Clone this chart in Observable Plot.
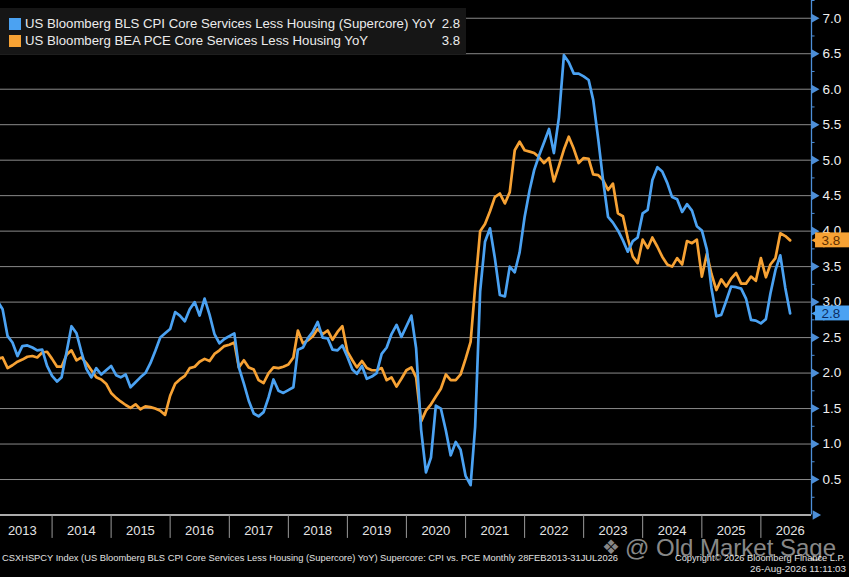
<!DOCTYPE html>
<html><head><meta charset="utf-8">
<script src="https://cdn.jsdelivr.net/npm/d3@7"></script>
<script src="https://cdn.jsdelivr.net/npm/@observablehq/plot@0.6"></script>
<style>
html,body{margin:0;padding:0;background:#000;overflow:hidden;}
#wrap{position:relative;width:849px;height:577px;overflow:hidden;background:#000;font-family:"Liberation Sans",Arial,sans-serif;}
#wrap svg{display:block;}
#legend{position:absolute;left:0;top:8px;width:466px;height:46px;background:#161616;color:#ececec;font-size:13.2px;}
.row{position:absolute;left:0;width:466px;height:16px;line-height:16px;}
.sw{position:absolute;left:9px;top:2px;width:12px;height:12px;}
.lab{position:absolute;left:25px;top:0;white-space:nowrap;}
.val{position:absolute;right:6px;top:0;}
#wm{position:absolute;left:602px;top:534px;color:rgba(255,255,255,0.55);font-size:24px;white-space:nowrap;font-family:"Liberation Sans",Arial,sans-serif;}
#wm .ic{font-family:"DejaVu Sans";font-size:20px;margin-right:5px;vertical-align:2px;}
</style></head><body><div id="wrap"></div>
<script>
// ---- data (monthly, Feb 2013 .. Jul 2026) ----
const startMonth = [2013, 1]; // Feb 2013 (UTC month index)
const cpiSupercore = [
 3.00,2.90,2.52,2.43,2.24,2.38,2.39,2.36,2.32,2.33,
 2.10,1.96,1.88,1.94,2.30,2.66,2.56,2.30,2.06,1.94,
 2.07,1.98,2.04,2.10,1.97,1.94,1.98,1.80,1.87,1.94,
 2.00,2.14,2.31,2.50,2.56,2.62,2.86,2.81,2.73,2.90,
 3.00,2.81,3.05,2.82,2.55,2.42,2.48,2.52,2.56,2.08,
 1.85,1.61,1.43,1.39,1.45,1.66,1.91,1.75,1.72,1.76,
 1.80,2.33,2.36,2.49,2.58,2.72,2.50,2.49,2.33,2.32,
 2.39,2.23,2.05,1.99,2.10,1.92,1.95,2.00,2.27,2.36,
 2.55,2.68,2.51,2.66,2.81,2.35,1.20,0.60,0.81,1.54,
 1.50,1.19,0.84,1.03,0.92,0.55,0.42,1.24,3.15,3.85,
 4.04,3.62,3.10,3.08,3.50,3.42,3.70,4.20,4.58,4.86,
 5.07,5.25,5.44,5.10,5.60,6.48,6.38,6.22,6.22,6.18,
 6.13,5.85,5.30,4.72,4.20,4.12,4.01,3.87,3.71,3.86,
 3.91,4.25,4.30,4.72,4.90,4.84,4.68,4.48,4.45,4.27,
 4.38,4.29,4.07,4.01,3.74,3.20,2.80,2.82,3.02,3.22,
 3.21,3.19,3.05,2.75,2.74,2.70,2.76,3.12,3.45,3.66,
 3.20,2.84
];
const pceSupercore = [
 2.20,2.22,2.07,2.11,2.16,2.19,2.23,2.24,2.22,2.29,
 2.30,2.20,2.09,2.09,2.26,2.32,2.18,2.22,2.14,2.04,
 1.94,1.91,1.85,1.72,1.65,1.60,1.55,1.51,1.56,1.49,
 1.53,1.52,1.50,1.47,1.41,1.68,1.85,1.91,1.96,2.07,
 2.09,2.16,2.20,2.17,2.27,2.32,2.38,2.40,2.43,2.08,
 2.18,2.08,2.05,1.90,1.86,2.00,2.08,2.07,2.09,2.12,
 2.22,2.60,2.42,2.46,2.52,2.62,2.55,2.60,2.47,2.58,
 2.66,2.30,2.18,2.08,2.17,2.07,2.04,2.04,2.07,1.90,
 1.94,1.81,1.92,2.04,2.08,1.94,1.32,1.47,1.56,1.67,
 1.78,1.98,1.90,1.90,1.98,2.20,2.44,3.21,4.00,4.10,
 4.28,4.48,4.53,4.39,4.55,5.14,5.26,5.14,5.12,5.10,
 5.04,4.96,5.03,4.70,4.92,5.15,5.33,5.16,4.96,5.03,
 5.02,4.80,4.79,4.72,4.58,4.67,4.25,4.21,3.90,3.64,
 3.55,3.88,3.76,3.91,3.78,3.64,3.53,3.50,3.62,3.53,
 3.86,3.83,3.88,3.36,3.68,3.40,3.17,3.32,3.22,3.33,
 3.41,3.26,3.26,3.36,3.30,3.62,3.35,3.53,3.62,3.97,
 3.93,3.87
];
const seriesNames = [
 "US Bloomberg BLS CPI Core Services Less Housing (Supercore) YoY",
 "US Bloomberg BEA PCE Core Services Less Housing YoY"
];
const lastLabels = ["2.8", "3.8"];
const yTicks = [0.5,1.0,1.5,2.0,2.5,3.0,3.5,4.0,4.5,5.0,5.5,6.0,6.5,7.0];
const yMinor = [0.25,0.75,1.25,1.75,2.25,2.75,3.25,3.75,4.25,4.75,5.25,5.75,6.25,6.75,7.25];
const yearLabels = [2013,2014,2015,2016,2017,2018,2019,2020,2021,2022,2023,2024,2025,2026];
const captionText = "CSXHSPCY Index (US Bloomberg BLS CPI Core Services Less Housing (Supercore) YoY) Supercore: CPI vs. PCE Monthly 28FEB2013-31JUL2026";
const copyrightText = "Copyright\u00A9 2026 Bloomberg Finance L.P.";
const stampText = "26-Aug-2026 11:11:03";
const watermarkText = "@ Old Market Sage";

// ---- styles ----
const blue = "#4ba2f2", orange = "#f7a234", axisBlue = "#4d8fd8";
const start = new Date(Date.UTC(startMonth[0], startMonth[1], 1));
const data = cpiSupercore.map((v, i) => ({date: d3.utcMonth.offset(start, i), cpi: v, pce: pceSupercore[i]}));
const xStart = new Date(Date.UTC(2013, 1, 16));
const xEnd = new Date(Date.UTC(2026, 10, 10));
const off = n => d3.utcDay.offset(xEnd, n);
const yearStarts = yearLabels.slice(1).map(y => new Date(Date.UTC(y, 0, 1)));
const tags = [
  {v: cpiSupercore[cpiSupercore.length - 1], label: lastLabels[0], bg: blue, fg: "#0c2d63"},
  {v: pceSupercore[pceSupercore.length - 1], label: lastLabels[1], bg: orange, fg: "#5e2f00"}
];

const chart = Plot.plot({
  width: 849, height: 542,
  marginLeft: 0, marginRight: 38, marginTop: 0, marginBottom: 27.5,
  style: {background: "#000", fontFamily: "'Liberation Sans', Arial, sans-serif", overflow: "hidden"},
  x: {type: "utc", domain: [xStart, xEnd], axis: null},
  y: {domain: [0, 7.25], axis: null},
  marks: [
    Plot.ruleY(yTicks, {stroke: "#8a8a8a", strokeWidth: 1}),
    Plot.ruleY([0], {stroke: "#e6e6e6", strokeWidth: 1.5}),
    Plot.ruleX(yearStarts, {x: d => d, y1: 0, y2: -0.33, stroke: "#9a9a9a", strokeWidth: 1}),
    Plot.text(yearLabels, {x: d => new Date(Date.UTC(d, 6, 1)), y: -0.22, text: d => String(d), fill: "#e4e4e4", fontSize: 13}),
    Plot.line(data, {x: "date", y: "pce", stroke: orange, strokeWidth: 2.7, strokeLinejoin: "round"}),
    Plot.line(data, {x: "date", y: "cpi", stroke: blue, strokeWidth: 2.7, strokeLinejoin: "round"}),
    Plot.ruleX([0], {x: () => xEnd, y1: 0, y2: 7.25, stroke: axisBlue, strokeWidth: 1.3}),
    Plot.ruleY(yMinor, {y: d => d, x1: () => xEnd, x2: () => off(22), stroke: axisBlue, strokeWidth: 1}),
    Plot.dot(yTicks, {x: () => xEnd, y: d => d, symbol: "triangle", rotate: 90, r: 3.2, fill: axisBlue, dx: 3}),
    Plot.dot([0], {x: () => xEnd, y: d => d, symbol: "triangle", rotate: 90, r: 3.6, fill: axisBlue, dx: 4}),
    Plot.text(yTicks, {x: () => xEnd, y: d => d, text: d => d.toFixed(1), dx: 11, textAnchor: "start", fill: "#f0f0f0", fontSize: 13.5}),
    ...tags.flatMap(t => [
      Plot.rect([t], {x1: () => off(25), x2: () => off(300), y1: d => d.v - 0.105, y2: d => d.v + 0.105, fill: t.bg}),
      Plot.dot([t], {x: () => xEnd, y: "v", symbol: "triangle", rotate: -90, r: 5.5, fill: t.bg, dx: 8.5}),
      Plot.text([t], {x: () => xEnd, y: "v", text: "label", dx: 10, textAnchor: "start", fill: t.fg, fontSize: 13.5})
    ])
  ]
});

const wrap = document.getElementById("wrap");
wrap.appendChild(chart);

// caption
const cap = d3.create("svg").attr("width", 849).attr("height", 35).style("display", "block")
  .style("font-family", "'Liberation Sans', Arial, sans-serif");
cap.append("text").attr("x", 2).attr("y", 19).attr("textLength", 616).attr("lengthAdjust", "spacingAndGlyphs")
  .attr("font-size", 9.8).attr("fill", "#e0e0e0").text(captionText);
cap.append("text").attr("x", 675).attr("y", 19).attr("textLength", 170).attr("lengthAdjust", "spacingAndGlyphs")
  .attr("font-size", 8.8).attr("fill", "#e0e0e0").text(copyrightText);
cap.append("text").attr("x", 750).attr("y", 30).attr("textLength", 96).attr("lengthAdjust", "spacingAndGlyphs")
  .attr("font-size", 9.5).attr("fill", "#e0e0e0").text(stampText);
wrap.appendChild(cap.node());

// legend
const legend = document.createElement("div");
legend.id = "legend";
[[seriesNames[0], blue, lastLabels[0]], [seriesNames[1], orange, lastLabels[1]]].forEach(([name, col, val], k) => {
  const row = document.createElement("div");
  row.className = "row";
  row.style.top = (8 + k * 17) + "px";
  row.innerHTML = `<div class="sw" style="background:${col}"></div><div class="lab"></div><div class="val"></div>`;
  row.querySelector(".lab").textContent = name;
  row.querySelector(".val").textContent = val;
  legend.appendChild(row);
});
wrap.appendChild(legend);

// watermark
const wm = document.createElement("div");
wm.id = "wm";
wm.innerHTML = `<span class="ic">\u2756</span><span class="tx"></span>`;
wm.querySelector(".tx").textContent = watermarkText;
wrap.appendChild(wm);
</script></body></html>
